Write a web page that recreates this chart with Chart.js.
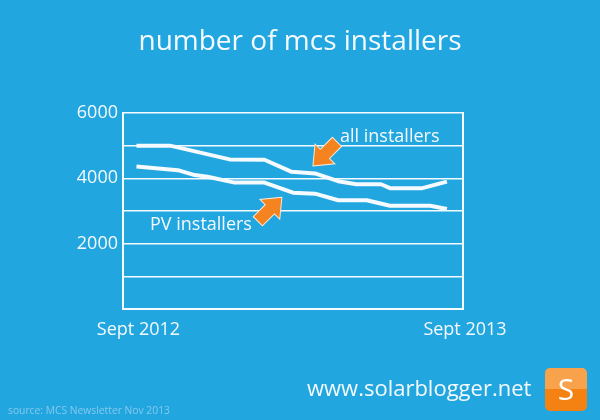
<!DOCTYPE html>
<html lang="en">

<head>
    <meta charset="UTF-8">
    <title>number of mcs installers</title>
    <script src="https://cdn.jsdelivr.net/npm/chart.js@4.4.0/dist/chart.umd.min.js"></script>
    <style>
        body { margin: 0; background-color: #22a6e0; }
        #wrap { position: relative; width: 600px; height: 420px; overflow: hidden; font-family: "Open Sans", sans-serif; color: #f4fafd; }
        #myChart { position: absolute; left: 0; top: 0; }
        .txt { position: absolute; white-space: nowrap; }
        #title { left: 0; width: 600px; top: 20px; text-align: center; font-size: 28px; }
        #allLbl { left: 340px; top: 123px; font-size: 18px; }
        #pvLbl { left: 150px; top: 211px; font-size: 18px; }
        #site { left: 307px; top: 372px; font-size: 22px; }
        #source { left: 8px; top: 403px; font-size: 10.3px; color: #86c9ec; }
        #logo { position: absolute; left: 545px; top: 368px; width: 42px; height: 43px; border-radius: 5px;
            background: linear-gradient(#f9a24c 0%, #f9a24c 50%, #f38212 50%, #f38212 100%);
            color: #fff; font-size: 30px; text-align: center; line-height: 42px; font-family: "Open Sans", sans-serif; }
    </style>
</head>

<body>
    <div id="wrap">
        <canvas id="myChart" width="600" height="420"></canvas>
        <div class="txt" id="title">number of mcs installers</div>
        <div class="txt" id="allLbl">all installers</div>
        <div class="txt" id="pvLbl">PV installers</div>
        <div class="txt" id="site">www.solarblogger.net</div>
        <div class="txt" id="source">source: MCS Newsletter Nov 2013</div>
        <div id="logo">S</div>
    </div>
    <script>
        // months after Sept 2012
        var allMonths = [0, 1.3, 3.6, 4.95, 6.0, 6.9, 7.85, 8.5, 9.45, 9.8, 11.05, 12];
        var allInstallers = [5000, 5000, 4580, 4570, 4200, 4150, 3900, 3820, 3820, 3700, 3700, 3900];
        var pvMonths = [0, 1.6, 2.25, 2.75, 3.8, 4.95, 6.05, 6.9, 7.8, 8.9, 9.8, 11.35, 12];
        var pvInstallers = [4360, 4250, 4100, 4050, 3870, 3870, 3560, 3530, 3330, 3330, 3160, 3160, 3060];

        var xTickValues = [0, 12.62];
        var xTickLabels = ['Sept 2012', 'Sept 2013'];
        var yTickLabels = { 2000: '2000', 4000: '4000', 6000: '6000' };

        // arrow tips, in data units: [month, value, direction]
        var arrows = [
            [6.82, 4380, 3 * Math.PI / 4],
            [5.62, 3420, -Math.PI / 4]
        ];

        function toPoints(xs, ys) {
            return xs.map(function (x, i) { return { x: x, y: ys[i] }; });
        }

        var white = '#f4fafd';

        var arrowPlugin = {
            id: 'arrows',
            afterDatasetsDraw: function (chart) {
                var ctx = chart.ctx;
                var xs = chart.scales.x;
                var ys = chart.scales.y;
                arrows.forEach(function (a) {
                    var px = xs.getPixelForValue(a[0]);
                    var py = ys.getPixelForValue(a[1]);
                    var L = 34, hl = 17, hw = 14, sw = 6.5;
                    ctx.save();
                    ctx.translate(px, py);
                    ctx.rotate(a[2]);
                    ctx.beginPath();
                    ctx.moveTo(0, 0);
                    ctx.lineTo(-hl, -hw);
                    ctx.lineTo(-hl, -sw);
                    ctx.lineTo(-L, -sw);
                    ctx.lineTo(-L, sw);
                    ctx.lineTo(-hl, sw);
                    ctx.lineTo(-hl, hw);
                    ctx.closePath();
                    ctx.fillStyle = '#f5831f';
                    ctx.fill();
                    ctx.lineWidth = 1;
                    ctx.strokeStyle = '#fbe9d8';
                    ctx.stroke();
                    ctx.restore();
                });
            }
        };

        var ctx = document.getElementById('myChart');
        var myChart = new Chart(ctx, {
            type: 'line',
            data: {
                datasets: [{
                    label: 'all installers',
                    data: toPoints(allMonths, allInstallers),
                    borderColor: white,
                    borderWidth: 4,
                    borderJoinStyle: 'round',
                    pointRadius: 0,
                    tension: 0
                }, {
                    label: 'PV installers',
                    data: toPoints(pvMonths, pvInstallers),
                    borderColor: white,
                    borderWidth: 4,
                    borderJoinStyle: 'round',
                    pointRadius: 0,
                    tension: 0
                }]
            },
            options: {
                responsive: false,
                animation: false,
                layout: {
                    padding: { left: 0, right: 137, top: 113, bottom: 66 }
                },
                plugins: {
                    legend: { display: false },
                    tooltip: { enabled: false }
                },
                scales: {
                    x: {
                        type: 'linear',
                        min: -0.52,
                        max: 12.62,
                        afterBuildTicks: function (axis) {
                            axis.ticks = xTickValues.map(function (v) { return { value: v }; });
                        },
                        afterFit: function (axis) { axis.height = 45; },
                        grid: { display: false },
                        border: { color: white, width: 2 },
                        ticks: {
                            autoSkip: false,
                            maxRotation: 0,
                            padding: 2,
                            labelOffset: 2,
                            color: white,
                            font: { family: 'Open Sans', size: 18 },
                            callback: function (v) {
                                var i = xTickValues.indexOf(v);
                                return i >= 0 ? xTickLabels[i] : '';
                            }
                        }
                    },
                    y: {
                        min: 0,
                        max: 6000,
                        afterFit: function (axis) { axis.width = 123; },
                        grid: { color: white, lineWidth: 1.5, drawTicks: false },
                        border: { color: white, width: 2 },
                        ticks: {
                            stepSize: 1000,
                            padding: 5,
                            color: white,
                            font: { family: 'Open Sans', size: 18 },
                            callback: function (v) { return yTickLabels[v] || ''; }
                        }
                    },
                    y2: {
                        position: 'right',
                        min: 0,
                        max: 6000,
                        afterFit: function (axis) { axis.width = 0; },
                        grid: { display: false, drawTicks: false },
                        border: { color: white, width: 2 },
                        ticks: { display: false }
                    }
                }
            },
            plugins: [arrowPlugin]
        });
    </script>
</body>

</html>
